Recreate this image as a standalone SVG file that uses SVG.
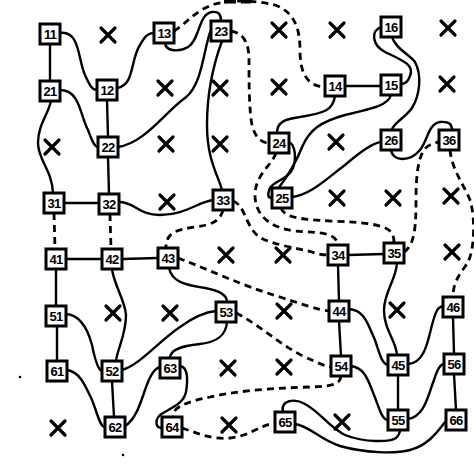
<svg xmlns="http://www.w3.org/2000/svg" width="474" height="475" viewBox="0 0 474 475">
<style>
.s{fill:none;stroke:#000;stroke-width:2.4;stroke-linecap:round}
.d{fill:none;stroke:#000;stroke-width:2.8;stroke-dasharray:7 5}
.b{fill:#fff;stroke:#000;stroke-width:3}
.t{font-family:"Liberation Sans",Arial,sans-serif;font-size:13px;font-weight:bold;text-anchor:middle;letter-spacing:-0.8px}
.x{fill:none;stroke:#000;stroke-width:3.2;stroke-linecap:round}
</style>
<defs>
<path id="xm" d="M-7,-7 L7,7 M7,-7 L-7,7"/>
</defs>
<rect width="474" height="475" fill="#fff"/>
<g id="crosses" class="x">
<use href="#xm" x="108" y="35"/><use href="#xm" x="165" y="88"/><use href="#xm" x="220" y="88"/>
<use href="#xm" x="52" y="147"/><use href="#xm" x="166" y="144"/><use href="#xm" x="220" y="144"/>
<use href="#xm" x="167" y="202"/><use href="#xm" x="279" y="30"/><use href="#xm" x="337" y="30"/>
<use href="#xm" x="448" y="28"/><use href="#xm" x="279" y="87"/><use href="#xm" x="447" y="84"/>
<use href="#xm" x="336" y="142"/><use href="#xm" x="337" y="198"/><use href="#xm" x="393" y="198"/>
<use href="#xm" x="451" y="196"/><use href="#xm" x="226" y="255"/><use href="#xm" x="113" y="313"/>
<use href="#xm" x="170" y="313"/><use href="#xm" x="228" y="368"/><use href="#xm" x="58" y="428"/>
<use href="#xm" x="229" y="425"/><use href="#xm" x="283" y="255"/><use href="#xm" x="452" y="252"/>
<use href="#xm" x="284" y="311"/><use href="#xm" x="397" y="310"/><use href="#xm" x="284" y="367"/>
<use href="#xm" x="342" y="422"/>
</g>
<g id="connectors">
<path class="s" d="M50,44 L50,81"/>
<path class="s" d="M60,33 C80,30 78,60 85,75 C90,86 92,90 97,90"/>
<path class="s" d="M117,88 C135,85 130,60 140,45 C145,36 148,33 154,33"/>
<path class="s" d="M165,43 C166,52 180,52 188,47 C200,40 198,14 212,12 C220,11 221,16 221,21"/>
<path class="s" d="M118,147 C145,143 165,112 185,98 C203,85 204,45 211,30"/>
<path class="s" d="M222,41 C215,60 207,90 207,125 C207,160 218,175 222,190"/>
<path class="s" d="M60,90 C80,90 80,115 88,130 C92,140 94,147 98,147"/>
<path class="s" d="M107,100 L108,137"/>
<path class="s" d="M51,101 C48,115 38,125 38,143 C38,160 52,170 53,193"/>
<path class="s" d="M108,157 L109,194"/>
<path class="s" d="M64,203 L99,203"/>
<path class="s" d="M119,202 C135,202 138,215 160,215 C185,215 198,202 213,200"/>
<path class="s" d="M345,86 L381,86"/>
<path class="s" d="M382,27 C370,30 372,45 385,52 C402,60 415,65 410,76 C408,82 404,84 401,84"/>
<path class="s" d="M392,37 C395,48 410,55 415,62 C422,75 420,95 412,108 C405,118 392,124 392,130"/>
<path class="s" d="M335,96 C333,110 325,113 300,117 C285,119 277,122 277,133"/>
<path class="s" d="M391,95 C388,105 375,108 345,115 C320,122 310,130 303,145 C295,165 285,180 277,190"/>
<path class="s" d="M289,142 C296,145 296,160 293,168 C288,180 275,180 270,188 C267,195 268,198 272,198"/>
<path class="s" d="M292,197 C310,195 325,180 345,165 C360,152 372,143 381,142"/>
<path class="s" d="M391,150 C393,162 410,162 420,150 C428,140 428,124 440,122 C450,121 452,125 452,130"/>
<path class="s" d="M348,255 L384,254"/>
<path class="s" d="M338,265 L339,301"/>
<path class="s" d="M339,321 L341,356"/>
<path class="s" d="M397,263 C396,280 384,292 384,310 C384,330 396,340 397,355"/>
<path class="s" d="M349,309 C365,310 368,325 375,340 C380,355 382,364 388,365"/>
<path class="s" d="M408,364 C425,363 428,340 432,325 C436,310 438,307 443,306"/>
<path class="s" d="M453,317 L454,354"/>
<path class="s" d="M454,374 L456,410"/>
<path class="s" d="M398,375 L398,410"/>
<path class="s" d="M351,366 C365,368 368,380 374,395 C380,410 382,420 388,420"/>
<path class="s" d="M408,419 C425,416 428,395 434,380 C437,370 440,364 444,364"/>
<path class="s" d="M283,412 C280,400 295,398 305,404 C320,412 330,428 345,435 C365,443 390,442 396,438 C400,434 400,432 400,430"/>
<path class="s" d="M295,424 C310,426 320,440 340,446 C365,453 395,454 410,450 C430,445 440,428 446,421"/>
<path class="s" d="M66,259 L102,259"/>
<path class="s" d="M122,259 L158,258"/>
<path class="s" d="M56,269 L56,306"/>
<path class="s" d="M57,326 L57,361"/>
<path class="s" d="M112,269 C114,285 125,300 126,315 C126,335 117,350 116,361"/>
<path class="s" d="M169,268 C172,282 185,285 205,288 C222,291 227,296 227,302"/>
<path class="s" d="M66,314 C80,315 88,330 92,345 C95,360 98,370 102,371"/>
<path class="s" d="M122,370 C140,365 160,340 180,327 C195,316 205,312 216,311"/>
<path class="s" d="M227,322 C226,335 218,342 200,344 C180,346 170,350 170,358"/>
<path class="s" d="M112,381 L114,417"/>
<path class="s" d="M67,370 C80,372 85,385 92,400 C98,415 100,427 105,427"/>
<path class="s" d="M125,426 C135,420 140,405 145,390 C150,375 155,368 160,367"/>
<path class="s" d="M180,366 C188,367 188,380 186,392 C183,405 170,408 160,415 C155,420 155,428 162,428"/>
<path class="d" d="M54,213 L55,249"/>
<path class="d" d="M110,214 L111,249"/>
<path class="d" d="M174,31 C185,25 195,10 215,4 C230,0 255,0 275,5 C295,12 300,30 300,50 C300,70 305,86 325,87"/>
<path d="M224,1 L236,1 M241,1 L251,1" stroke="#000" stroke-width="5" fill="none"/>
<path class="d" d="M231,31 C243,33 249,42 249,60 C249,80 249,110 252,125 C255,138 262,143 269,143"/>
<path class="d" d="M276,153 C272,165 255,175 255,195 C255,215 270,228 295,231 C320,233 336,232 338,245"/>
<path class="d" d="M281,208 C285,218 300,219 330,221 C360,222 385,224 391,232 C394,236 394,240 394,243"/>
<path class="d" d="M233,201 C245,205 245,225 258,236 C270,245 300,248 315,253 C322,255 326,255 328,255"/>
<path class="d" d="M223,210 C220,222 210,225 195,227 C175,230 166,233 166,248"/>
<path class="d" d="M178,258 C210,270 240,285 280,297 C305,305 318,310 329,311"/>
<path class="d" d="M236,313 C260,325 280,345 305,357 C318,363 325,366 331,367"/>
<path class="d" d="M341,376 C340,384 335,386 310,387 C280,388 240,390 210,397 C185,402 172,408 173,417"/>
<path class="d" d="M182,428 C195,432 210,440 230,438 C250,436 260,425 275,423"/>
<path class="d" d="M404,252 C415,245 416,225 416,200 C416,175 418,150 430,145 C435,143 437,142 439,142"/>
<path class="d" d="M450,150 C452,170 464,185 470,200 C476,220 474,250 468,262 C462,272 453,280 453,297"/>
</g>
<g id="n11"><rect class="b" x="40" y="24" width="20" height="20"/><text class="t" x="50" y="39">11</text></g>
<g id="n12"><rect class="b" x="97" y="80" width="20" height="20"/><text class="t" x="107" y="95">12</text></g>
<g id="n13"><rect class="b" x="154" y="23" width="20" height="20"/><text class="t" x="164" y="38">13</text></g>
<g id="n14"><rect class="b" x="325" y="76" width="20" height="20"/><text class="t" x="335" y="91">14</text></g>
<g id="n15"><rect class="b" x="381" y="75" width="20" height="20"/><text class="t" x="391" y="90">15</text></g>
<g id="n16"><rect class="b" x="381" y="17" width="20" height="20"/><text class="t" x="391" y="32">16</text></g>
<g id="n21"><rect class="b" x="40" y="81" width="20" height="20"/><text class="t" x="50" y="96">21</text></g>
<g id="n22"><rect class="b" x="98" y="137" width="20" height="20"/><text class="t" x="108" y="152">22</text></g>
<g id="n23"><rect class="b" x="211" y="21" width="20" height="20"/><text class="t" x="221" y="36">23</text></g>
<g id="n24"><rect class="b" x="269" y="133" width="20" height="20"/><text class="t" x="279" y="148">24</text></g>
<g id="n25"><rect class="b" x="272" y="188" width="20" height="20"/><text class="t" x="282" y="203">25</text></g>
<g id="n26"><rect class="b" x="381" y="130" width="20" height="20"/><text class="t" x="391" y="145">26</text></g>
<g id="n31"><rect class="b" x="44" y="193" width="20" height="20"/><text class="t" x="54" y="208">31</text></g>
<g id="n32"><rect class="b" x="99" y="194" width="20" height="20"/><text class="t" x="109" y="209">32</text></g>
<g id="n33"><rect class="b" x="213" y="190" width="20" height="20"/><text class="t" x="223" y="205">33</text></g>
<g id="n34"><rect class="b" x="328" y="245" width="20" height="20"/><text class="t" x="338" y="260">34</text></g>
<g id="n35"><rect class="b" x="384" y="243" width="20" height="20"/><text class="t" x="394" y="258">35</text></g>
<g id="n36"><rect class="b" x="439" y="130" width="20" height="20"/><text class="t" x="449" y="145">36</text></g>
<g id="n41"><rect class="b" x="46" y="249" width="20" height="20"/><text class="t" x="56" y="264">41</text></g>
<g id="n42"><rect class="b" x="102" y="249" width="20" height="20"/><text class="t" x="112" y="264">42</text></g>
<g id="n43"><rect class="b" x="158" y="248" width="20" height="20"/><text class="t" x="168" y="263">43</text></g>
<g id="n44"><rect class="b" x="329" y="301" width="20" height="20"/><text class="t" x="339" y="316">44</text></g>
<g id="n45"><rect class="b" x="388" y="355" width="20" height="20"/><text class="t" x="398" y="370">45</text></g>
<g id="n46"><rect class="b" x="443" y="297" width="20" height="20"/><text class="t" x="453" y="312">46</text></g>
<g id="n51"><rect class="b" x="46" y="306" width="20" height="20"/><text class="t" x="56" y="321">51</text></g>
<g id="n52"><rect class="b" x="102" y="361" width="20" height="20"/><text class="t" x="112" y="376">52</text></g>
<g id="n53"><rect class="b" x="216" y="302" width="20" height="20"/><text class="t" x="226" y="317">53</text></g>
<g id="n54"><rect class="b" x="331" y="356" width="20" height="20"/><text class="t" x="341" y="371">54</text></g>
<g id="n55"><rect class="b" x="388" y="410" width="20" height="20"/><text class="t" x="398" y="425">55</text></g>
<g id="n56"><rect class="b" x="444" y="354" width="20" height="20"/><text class="t" x="454" y="369">56</text></g>
<g id="n61"><rect class="b" x="47" y="361" width="20" height="20"/><text class="t" x="57" y="376">61</text></g>
<g id="n62"><rect class="b" x="105" y="417" width="20" height="20"/><text class="t" x="115" y="432">62</text></g>
<g id="n63"><rect class="b" x="160" y="358" width="20" height="20"/><text class="t" x="170" y="373">63</text></g>
<g id="n64"><rect class="b" x="162" y="417" width="20" height="20"/><text class="t" x="172" y="432">64</text></g>
<g id="n65"><rect class="b" x="275" y="412" width="20" height="20"/><text class="t" x="285" y="427">65</text></g>
<g id="n66"><rect class="b" x="446" y="410" width="20" height="20"/><text class="t" x="456" y="425">66</text></g>
<circle cx="20" cy="377" r="1.3"/>
<circle cx="123" cy="455" r="1.3"/>
</svg>
